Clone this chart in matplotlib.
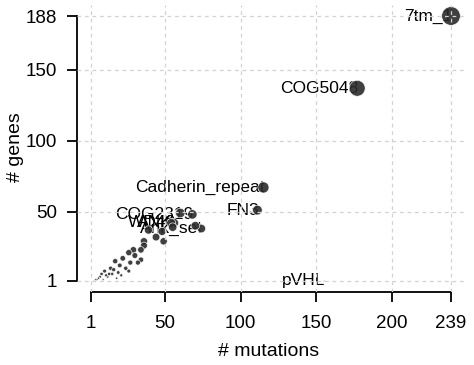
import matplotlib
matplotlib.use("Agg")
import matplotlib.pyplot as plt
import numpy as np

plt.rcParams['font.family'] = ['Liberation Sans', 'DejaVu Sans']

# labelled domains
domains = ["7tm_1", "COG5048", "Cadherin_repeat", "FN3", "COG2319", "WD40", "ANK", "Ank_set", "pVHL"]
dom_mutations = [239, 177, 115, 111, 68, 56, 54, 74, 155]
dom_genes = [188, 137, 67, 51, 48, 42, 42, 38, 1]

# remaining (unlabelled) domains
other_mutations = [60, 70, 55, 44, 49, 48, 39, 36, 36, 34, 29, 26, 30, 22, 34, 32, 17, 20,
                   14, 10, 7, 15, 19, 12, 4, 9, 24, 27, 18, 26, 13, 6, 3, 11, 21, 16, 8, 5]
other_genes = [49, 40, 39, 32, 29, 36, 37, 29, 26, 23, 23, 21, 19, 17, 16, 14, 15, 12,
               10, 8, 4, 6, 7, 4, 2, 2, 10, 14, 3, 8, 6, 3, 1, 5, 5, 9, 6, 2]

x_ticks = [1, 50, 100, 150, 200, 239]
y_ticks = [1, 50, 100, 150, 188]

mutations = np.array(dom_mutations + other_mutations)
genes = np.array(dom_genes + other_genes)

# point radius (px) grows with number of genes
radius = 0.68 * np.sqrt(genes)
sizes = (2 * radius * 0.72) ** 2

fig = plt.figure(figsize=(4.74, 3.65), dpi=100)
ax = fig.add_axes([77 / 474, 73 / 365, 388 / 474, 287 / 365])

ax.scatter(mutations, genes, s=sizes, color="#2b2b2b", alpha=0.9,
           edgecolors="white", linewidths=0.5, zorder=3)

for name, mx, gy in zip(domains, dom_mutations, dom_genes):
    ax.annotate(name, (mx, gy), xytext=(1, 0), textcoords="offset points",
                ha="right", va="center", fontsize=12.5, color="black", zorder=2)

# dashed grid
for t in x_ticks:
    ax.axvline(t, color="#d2d2d2", lw=0.9, ls=(0, (3, 3)), zorder=4)
for t in y_ticks:
    ax.axhline(t, color="#d2d2d2", lw=0.9, ls=(0, (3, 3)), zorder=4)

ax.set_xlim(1 - 14 / 1.5126, 239 + 14 / 1.5126)
ax.set_ylim(1 - 11 / 1.417, 188 + 11 / 1.417)

ax.spines["top"].set_visible(False)
ax.spines["right"].set_visible(False)
ax.spines["left"].set_bounds(1, 188)
ax.spines["bottom"].set_bounds(1, 239)
ax.spines["left"].set_linewidth(1.3)
ax.spines["bottom"].set_linewidth(1.3)

ax.set_xticks(x_ticks)
ax.set_yticks(y_ticks)
ax.tick_params(axis="both", direction="out", length=7.2, width=1.3, labelsize=13.5)
ax.tick_params(axis="y", pad=7)
ax.tick_params(axis="x", pad=9)

fig.text(269 / 474, 1 - 352 / 365, "# mutations", ha="center", va="center", fontsize=14)
fig.text(15 / 474, 1 - 147 / 365, "# genes", ha="center", va="center", fontsize=14, rotation=90)

fig.savefig("out.png", dpi=100)
